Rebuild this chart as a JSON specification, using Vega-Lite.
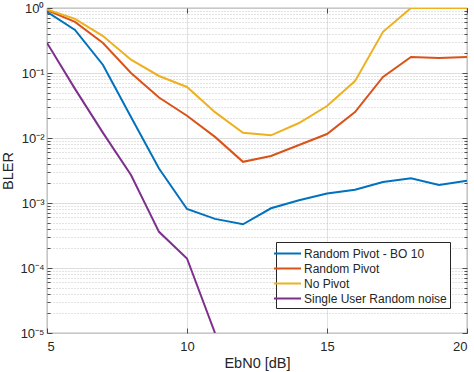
{
  "$schema": "https://vega.github.io/schema/vega-lite/v6.json",
  "width": 420,
  "height": 325,
  "autosize": {"type": "none"},
  "padding": {"left": 47, "top": 8, "right": 7, "bottom": 39},
  "background": "white",
  "config": {
    "font": "Liberation Sans",
    "view": {"stroke": "#262626", "strokeWidth": 0.8},
    "axis": {"labelFont": "Liberation Sans", "titleFont": "Liberation Sans", "labelColor": "#262626", "titleColor": "#262626", "domainColor": "#262626", "tickColor": "#262626", "labelFontSize": 13, "titleFontSize": 14.5, "titleFontWeight": "normal", "domainWidth": 0.8, "tickWidth": 0.8}
  },
  "data": {"values": [
    {"x": 5, "BLER": 0.87, "series": "Random Pivot - BO 10"},
    {"x": 6, "BLER": 0.46, "series": "Random Pivot - BO 10"},
    {"x": 7, "BLER": 0.133, "series": "Random Pivot - BO 10"},
    {"x": 8, "BLER": 0.021, "series": "Random Pivot - BO 10"},
    {"x": 9, "BLER": 0.0034, "series": "Random Pivot - BO 10"},
    {"x": 10, "BLER": 0.00081, "series": "Random Pivot - BO 10"},
    {"x": 11, "BLER": 0.00057, "series": "Random Pivot - BO 10"},
    {"x": 12, "BLER": 0.00047, "series": "Random Pivot - BO 10"},
    {"x": 13, "BLER": 0.00083, "series": "Random Pivot - BO 10"},
    {"x": 14, "BLER": 0.0011, "series": "Random Pivot - BO 10"},
    {"x": 15, "BLER": 0.0014, "series": "Random Pivot - BO 10"},
    {"x": 16, "BLER": 0.0016, "series": "Random Pivot - BO 10"},
    {"x": 17, "BLER": 0.0021, "series": "Random Pivot - BO 10"},
    {"x": 18, "BLER": 0.0024, "series": "Random Pivot - BO 10"},
    {"x": 19, "BLER": 0.0019, "series": "Random Pivot - BO 10"},
    {"x": 20, "BLER": 0.0022, "series": "Random Pivot - BO 10"},
    {"x": 5, "BLER": 0.93, "series": "Random Pivot"},
    {"x": 6, "BLER": 0.61, "series": "Random Pivot"},
    {"x": 7, "BLER": 0.29, "series": "Random Pivot"},
    {"x": 8, "BLER": 0.10, "series": "Random Pivot"},
    {"x": 9, "BLER": 0.042, "series": "Random Pivot"},
    {"x": 10, "BLER": 0.022, "series": "Random Pivot"},
    {"x": 11, "BLER": 0.0104, "series": "Random Pivot"},
    {"x": 12, "BLER": 0.0043, "series": "Random Pivot"},
    {"x": 13, "BLER": 0.0053, "series": "Random Pivot"},
    {"x": 14, "BLER": 0.0078, "series": "Random Pivot"},
    {"x": 15, "BLER": 0.0115, "series": "Random Pivot"},
    {"x": 16, "BLER": 0.025, "series": "Random Pivot"},
    {"x": 17, "BLER": 0.087, "series": "Random Pivot"},
    {"x": 18, "BLER": 0.176, "series": "Random Pivot"},
    {"x": 19, "BLER": 0.17, "series": "Random Pivot"},
    {"x": 20, "BLER": 0.176, "series": "Random Pivot"},
    {"x": 5, "BLER": 0.95, "series": "No Pivot"},
    {"x": 6, "BLER": 0.68, "series": "No Pivot"},
    {"x": 7, "BLER": 0.37, "series": "No Pivot"},
    {"x": 8, "BLER": 0.16, "series": "No Pivot"},
    {"x": 9, "BLER": 0.09, "series": "No Pivot"},
    {"x": 10, "BLER": 0.061, "series": "No Pivot"},
    {"x": 11, "BLER": 0.025, "series": "No Pivot"},
    {"x": 12, "BLER": 0.012, "series": "No Pivot"},
    {"x": 13, "BLER": 0.011, "series": "No Pivot"},
    {"x": 14, "BLER": 0.017, "series": "No Pivot"},
    {"x": 15, "BLER": 0.031, "series": "No Pivot"},
    {"x": 16, "BLER": 0.075, "series": "No Pivot"},
    {"x": 17, "BLER": 0.43, "series": "No Pivot"},
    {"x": 18, "BLER": 1.0, "series": "No Pivot"},
    {"x": 19, "BLER": 1.0, "series": "No Pivot"},
    {"x": 20, "BLER": 1.0, "series": "No Pivot"},
    {"x": 5, "BLER": 0.29, "series": "Single User Random noise"},
    {"x": 6, "BLER": 0.057, "series": "Single User Random noise"},
    {"x": 7, "BLER": 0.012, "series": "Single User Random noise"},
    {"x": 8, "BLER": 0.0027, "series": "Single User Random noise"},
    {"x": 9, "BLER": 0.00036, "series": "Single User Random noise"},
    {"x": 10, "BLER": 0.00014, "series": "Single User Random noise"},
    {"x": 11, "BLER": 0.00001, "series": "Single User Random noise"}
  ]},
  "resolve": {"scale": {"x": "shared", "y": "shared"}, "axis": {"x": "independent", "y": "independent"}},
  "layer": [
    {
      "mark": {"type": "point", "opacity": 0},
      "encoding": {
        "x": {"field": "x", "type": "quantitative", "scale": {"domain": [5, 20], "nice": false, "zero": false},
          "axis": {"orient": "bottom", "title": "EbN0 [dB]", "values": [5, 10, 15, 20], "grid": true, "gridColor": "#d9d9d9", "gridWidth": 0.8, "tickSize": -5, "labelPadding": 12, "titlePadding": 3, "domain": false}},
        "y": {"field": "BLER", "type": "quantitative", "scale": {"type": "log", "domain": [0.00001, 1], "nice": false},
          "axis": {"orient": "left", "title": "BLER", "domain": false,
            "values": [0.00001, 0.00002, 0.00003, 0.00004, 0.00005, 0.00006, 0.00007, 0.00008, 0.00009, 0.0001, 0.0002, 0.0003, 0.0004, 0.0005, 0.0006, 0.0007, 0.0008, 0.0009, 0.001, 0.002, 0.003, 0.004, 0.005, 0.006, 0.007, 0.008, 0.009, 0.01, 0.02, 0.03, 0.04, 0.05, 0.06, 0.07, 0.08, 0.09, 0.1, 0.2, 0.3, 0.4, 0.5, 0.6, 0.7, 0.8, 0.9, 1],
            "labelExpr": "abs(datum.value-1)<1e-9 ? '10⁰' : abs(datum.value-0.1)<1e-9 ? '10⁻¹' : abs(datum.value-0.01)<1e-10 ? '10⁻²' : abs(datum.value-0.001)<1e-11 ? '10⁻³' : abs(datum.value-0.0001)<1e-12 ? '10⁻⁴' : abs(datum.value-0.00001)<1e-13 ? '10⁻⁵' : ''",
            "grid": true, "gridDash": [1, 2], "gridColor": "#b8b8b8", "gridWidth": 0.8,
            "tickSize": {"condition": {"test": "abs(log(datum.value)/LN10 - round(log(datum.value)/LN10)) < 0.001", "value": -5}, "value": -3},
            "labelPadding": 8, "titlePadding": 4, "labelFlush": false, "labelOverlap": false}}
      }
    },
    {
      "mark": {"type": "point", "opacity": 0},
      "encoding": {
        "x": {"field": "x", "type": "quantitative", "axis": {"orient": "top", "title": null, "values": [5, 10, 15, 20], "labels": false, "grid": false, "tickSize": -5, "domain": false}},
        "y": {"field": "BLER", "type": "quantitative",
          "axis": {"orient": "right", "title": null, "labels": false, "domain": false,
            "values": [0.00001, 0.00002, 0.00003, 0.00004, 0.00005, 0.00006, 0.00007, 0.00008, 0.00009, 0.0001, 0.0002, 0.0003, 0.0004, 0.0005, 0.0006, 0.0007, 0.0008, 0.0009, 0.001, 0.002, 0.003, 0.004, 0.005, 0.006, 0.007, 0.008, 0.009, 0.01, 0.02, 0.03, 0.04, 0.05, 0.06, 0.07, 0.08, 0.09, 0.1, 0.2, 0.3, 0.4, 0.5, 0.6, 0.7, 0.8, 0.9, 1],
            "grid": true, "gridColor": "#d9d9d9", "gridWidth": 0.8,
            "gridOpacity": {"condition": {"test": "abs(log(datum.value)/LN10 - round(log(datum.value)/LN10)) < 0.001", "value": 1}, "value": 0},
            "tickSize": {"condition": {"test": "abs(log(datum.value)/LN10 - round(log(datum.value)/LN10)) < 0.001", "value": -5}, "value": -3}}}
      }
    },
    {
      "mark": {"type": "line", "strokeWidth": 2, "clip": true},
      "encoding": {
        "x": {"field": "x", "type": "quantitative", "axis": null},
        "y": {"field": "BLER", "type": "quantitative", "axis": null},
        "color": {"field": "series", "type": "nominal",
          "scale": {"domain": ["Random Pivot - BO 10", "Random Pivot", "No Pivot", "Single User Random noise"], "range": ["#0072BD", "#D95319", "#EDB120", "#7E2F8E"]},
          "legend": {"orient": "none", "legendX": 229, "legendY": 234, "title": null, "symbolType": "M-1.8,0H1.8", "symbolSize": 225, "symbolStrokeWidth": 2, "labelFontSize": 12, "labelFont": "Liberation Sans", "labelColor": "#262626", "strokeColor": "#262626", "fillColor": "white", "padding": 3, "rowPadding": 0, "labelOffset": 8}}
      }
    }
  ]
}
